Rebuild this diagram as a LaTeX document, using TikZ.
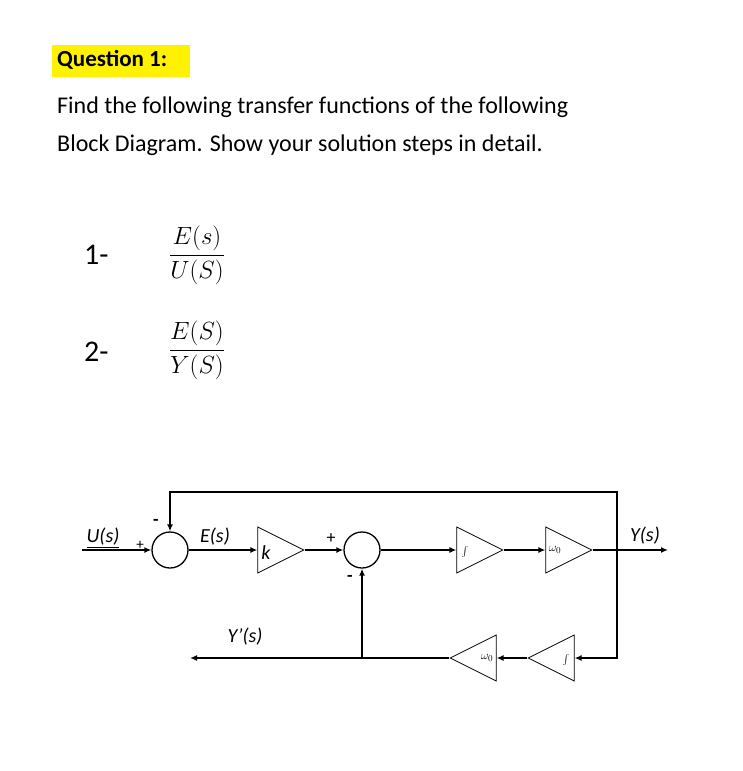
\documentclass[tikz,border=0pt]{standalone}
\usepackage{fontspec}
\setmainfont{Carlito}
\usetikzlibrary{shapes.geometric,arrows.meta}
\begin{document}
\begin{tikzpicture}[x=1pt,y=-1pt,
  txt/.style={font=\fontsize{24}{28}\selectfont,anchor=west,inner sep=0},
  lbl/.style={font=\fontsize{20}{22}\selectfont\itshape,inner sep=0},
  sumc/.style={circle,draw,line width=1.3pt,minimum size=36,inner sep=0},
  tri/.style={isosceles triangle,isosceles triangle stretches,draw,line width=0.8pt,minimum height=46,minimum width=46,inner sep=0},
  ar/.style={line width=1.8pt,-{Latex[length=7pt,width=6pt]}}]
\useasboundingbox (0,0) rectangle (743,771);
\fill[yellow] (52,45) rectangle (190,77);
\node[txt,font=\fontsize{23}{26}\selectfont\bfseries] (q) at (57,60) {Question 1:};
\node[txt] (l1) at (57,107) {Find the following transfer functions of the following};
\node[txt] (l2) at (57,145) {Block Diagram. Show your solution steps in detail.};
\node[txt,font=\fontsize{30}{32}\selectfont] (n1) at (84,255) {1-};
\node[txt,font=\fontsize{30}{32}\selectfont] (n2) at (84,352) {2-};
\node[font=\fontsize{25}{28}\selectfont] (f1) at (197,255) {$\displaystyle\frac{E(s)}{U(S)}$};
\node[font=\fontsize{25}{28}\selectfont] (f2) at (197,350) {$\displaystyle\frac{E(S)}{Y(S)}$};
% diagram
\node[sumc] (s1) at (170,550) {};
\node[sumc] (s2) at (362,550) {};
\node[tri] (k) at (272,550) {};
\node[lbl] at (266,553) {k};
\node[tri] (int) at (471,550) {};
\node[lbl,font=\fontsize{17}{18}\selectfont] at (465,552) {$\int$};
\node[tri] (w) at (560,550) {};
\node[lbl,font=\fontsize{13}{14}\selectfont] at (555,550) {$\omega_0$};
\node[tri,shape border rotate=180] (int2) at (560,658) {};
\node[lbl,font=\fontsize{17}{18}\selectfont] at (566,660) {$\int$};
\node[tri,shape border rotate=180] (w2) at (482,658) {};
\node[lbl,font=\fontsize{13}{14}\selectfont] at (487,658) {$\omega_0$};
\coordinate (in) at (82,550);
\coordinate (out) at (668,550);
\coordinate (tap) at (617,550);
\coordinate (tl) at (170,492);
\coordinate (tr) at (617,492);
\coordinate (br) at (617,658);
\coordinate (bl) at (190,658);
\coordinate (v) at (362,658);
\draw[ar] (in) -- (s1);
\draw[ar] (s1) -- (k.lower side);
\draw[ar] (k.apex) -- (s2);
\draw[ar] (s2) -- (int.lower side);
\draw[ar] (int.apex) -- (w.lower side);
\draw[ar] (w.apex) -- (out);
\draw[ar] (tap) -- (tr) -- (tl) -- (s1);
\draw[ar] (tap) -- (br) -- (int2.lower side);
\draw[ar] (int2.apex) -- (w2.lower side);
\draw[ar] (w2.apex) -- (bl);
\draw[ar] (v) -- (s2);
\node[lbl] at (103,538) {\underline{U(s)}};
\node[lbl,font=\fontsize{15}{16}\selectfont] at (140,545) {+};
\node[lbl,font=\fontsize{18}{18}\selectfont\bfseries] at (156,522) {-};
\node[lbl] at (215,537) {E(s)};
\node[lbl,font=\fontsize{18}{18}\selectfont] at (331,539) {+};
\node[lbl,font=\fontsize{18}{18}\selectfont\bfseries] at (350,578) {-};
\node[lbl] at (645,536) {Y(s)};
\node[lbl] at (245,637) {Y’(s)};
\end{tikzpicture}
\end{document}
